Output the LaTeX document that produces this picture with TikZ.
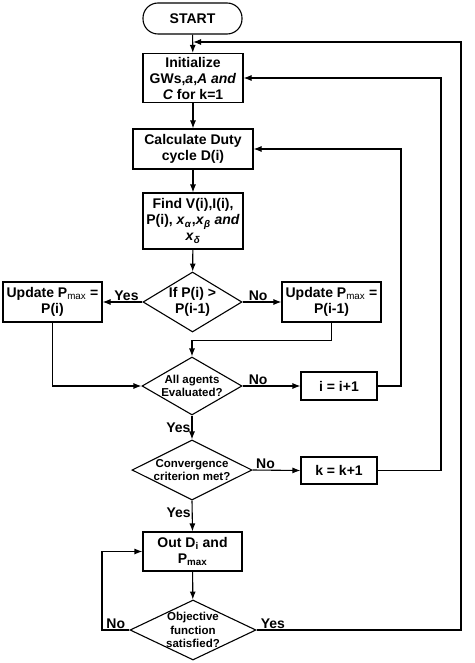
\documentclass[tikz,border=0pt]{standalone}
\usepackage{fontspec}
\setmainfont{Liberation Sans}
\usetikzlibrary{shapes.geometric, arrows.meta, calc}

\begin{document}
\begin{tikzpicture}[x=1pt, y=-1pt, line width=1.1pt,
		box/.style={draw, rectangle, inner sep=0pt, align=center, font=\bfseries\fontsize{14}{16}\selectfont},
		dec/.style={draw, diamond, inner sep=0pt},
		dtxt/.style={align=center, inner sep=0pt, font=\bfseries\fontsize{11.5}{13}\selectfont},
		lbl/.style={inner sep=1pt, font=\bfseries\fontsize{14}{16}\selectfont},
		arr/.style={-{Latex[length=8pt, width=6pt]}}
	]
	\useasboundingbox (0,0) rectangle (474,663);

	% process steps
	\node[box, rounded corners=15pt, minimum width=99pt, minimum height=31pt] (start) at (192.5,18.5) {START};
	\node[box, minimum width=100pt, minimum height=49pt] (init) at (193,78) {Initialize\\GWs,\textit{a},\textit{A and}\\\textit{C} for k=1};
	\node[box, minimum width=120pt, minimum height=40pt] (calc) at (193,149) {Calculate Duty\\cycle D(i)};
	\node[box, minimum width=100pt, minimum height=56pt] (find) at (193,221) {Find V(i),I(i),\\P(i), \textit{x}\textsubscript{\textit{α}},\textit{x}\textsubscript{\textit{β}} \textit{and}\\\textit{x}\textsubscript{\textit{δ}}};
	\node[box, minimum width=99pt, minimum height=40pt] (upl) at (52.5,302) {Update P\textsubscript{\normalfont max} =\\P(i)};
	\node[box, minimum width=99pt, minimum height=40pt] (upr) at (331.5,302) {Update P\textsubscript{\normalfont max} =\\P(i-1)};
	\node[box, minimum width=76pt, minimum height=28pt] (inci) at (339,386) {i = i+1};
	\node[box, minimum width=76pt, minimum height=27pt] (inck) at (339,470.5) {k = k+1};
	\node[box, minimum width=99pt, minimum height=39pt] (out) at (192.5,551.5) {Out D\textsubscript{i} and\\P\textsubscript{max}};

	% decisions
	\node[dec, minimum width=99pt, minimum height=60pt] (ifp) at (192.5,302) {};
	\node[dtxt, font=\bfseries\fontsize{14}{16}\selectfont] at (ifp) {If P(i) >\\P(i-1)};
	\node[dec, minimum width=100pt, minimum height=58pt] (allev) at (192,386) {};
	\node[dtxt] at (allev) {All agents\\Evaluated?};
	\node[dec, minimum width=120pt, minimum height=60pt] (conv) at (192,470) {};
	\node[dtxt] at (conv) {Convergence\\criterion met?};
	\node[dec, minimum width=126pt, minimum height=60pt] (obj) at (193,630) {};
	\node[dtxt, font=\bfseries\fontsize{11.5}{13.5}\selectfont] at (obj) {Objective\\function\\satisfied?};

	\coordinate (top) at (193,42);

	% main flow
	\draw[arr] (start) -- (init);
	\draw[arr] (init) -- (calc);
	\draw[arr] (calc) -- (find);
	\draw[arr] (find) -- (ifp);
	\draw[arr] (ifp.west) -- (upl.east) node[lbl, above, pos=0.4] {Yes};
	\draw[arr] (ifp.east) -- (upr.west) node[lbl, above, pos=0.4] {No};
	\draw[arr] (upl.south) |- (allev.west);
	\draw[arr] (upr.south) -- ++(0,18) -| (allev.north);
	\draw[arr] (allev.east) -- (inci.west) node[lbl, above, pos=0.27] {No};
	\draw[arr] (allev.south) -- (conv.north) node[lbl, left, midway] {Yes};
	\draw[arr] (conv.east) -- (inck.west) node[lbl, above, pos=0.27] {No};
	\draw[arr] (conv.south) -- (out.north) node[lbl, left, pos=0.4] {Yes};
	\draw[arr] (out) -- (obj);

	% loops back
	\draw[arr] (inci.east) -- (401,386) |- (calc.east);
	\draw[arr] (inck.east) -- (441,470.5) |- (init.east);
	\draw[arr] (obj.west) -- (102,630) node[lbl, above, pos=0.5] {No} |- (out.west);
	\draw[arr] (obj.east) -- (461,630) node[lbl, above, pos=0.08] {Yes} |- (top);

\end{tikzpicture}
\end{document}
